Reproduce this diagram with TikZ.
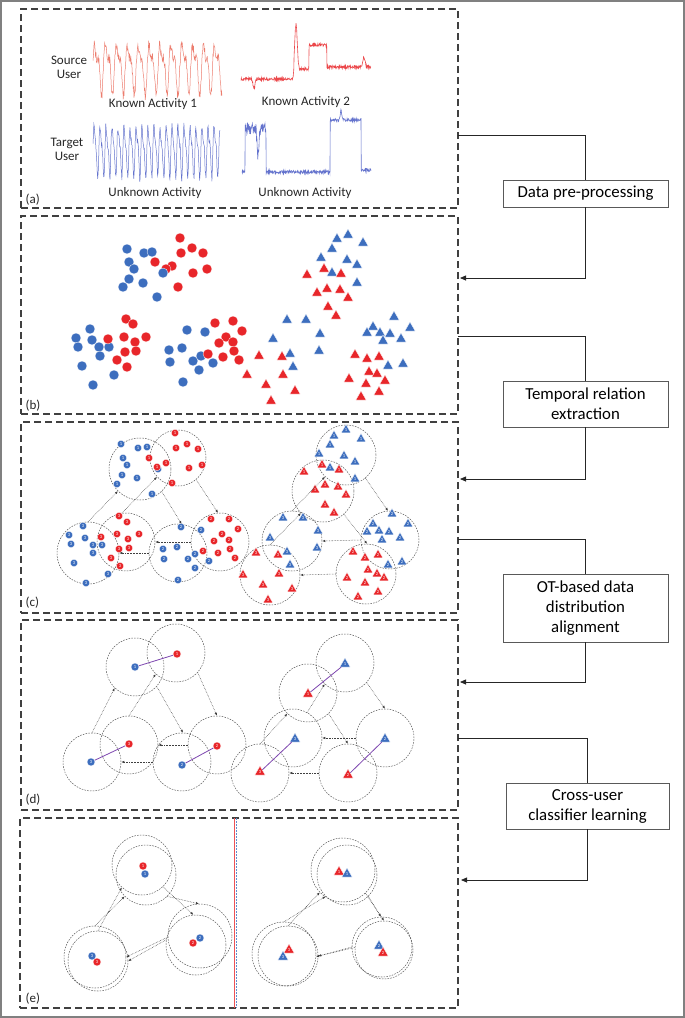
\documentclass[tikz,border=0pt]{standalone}
\usepackage{fontspec}
\setmainfont{Carlito}
\usetikzlibrary{shapes.geometric,arrows.meta,positioning,calc}
\definecolor{tblue}{RGB}{61,110,190}
\definecolor{tred}{RGB}{232,38,42}
\definecolor{sigred}{RGB}{236,125,110}
\definecolor{sigblue}{RGB}{100,115,205}
\definecolor{otpurple}{RGB}{125,70,175}
\newcommand{\txt}{\fontsize{13}{14}\selectfont}

\begin{document}
\begin{tikzpicture}[x=1pt, y=-1pt,
    panel/.style = {rectangle, draw=black!75, line width=1.2pt, dash pattern=on 7pt off 4pt, minimum width=437pt, inner sep=0pt},
    stage/.style = {rectangle, draw=black!65, line width=0.7pt, align=center, fill=white, font=\fontsize{16.8}{20}\selectfont, minimum width=165pt, inner sep=2pt},
    link/.style = {black!85, line width=0.8pt},
    tag/.style = {font=\txt, inner sep=1pt, text=black!85},
    caption/.style = {font=\txt, inner sep=1pt, text=black!85, align=center},
    bcirc/.style = {circle, fill=tblue, draw=white, line width=0.3pt, inner sep=0pt, minimum size=10pt},
    rcirc/.style = {bcirc, fill=tred},
    btri/.style = {regular polygon, regular polygon sides=3, fill=tblue, draw=white, line width=0.3pt, inner sep=0pt, minimum size=12pt},
    rtri/.style = {btri, fill=tred},
    num/.style = {minimum size=7.5pt, text=white, font=\fontsize{4.5}{5}\selectfont},
    clus/.style = {circle, draw=black!65, dash pattern=on 1.6pt off 1.2pt, line width=0.5pt, inner sep=0pt},
    flow/.style = {black!75, densely dotted, line width=0.55pt, -{Latex[length=3pt,width=2.5pt]}},
    ot/.style = {otpurple, line width=0.8pt},
    ]
    \useasboundingbox (0,0) rectangle (685,1018);
    \draw[black!50, line width=2pt] (1,1) rectangle (684,1017);

    % Panels
    \node[panel, minimum height=199pt] (pa) at (239.5,108.5) {};
    \node[panel, minimum height=198pt] (pb) at (239.5,315) {};
    \node[panel, minimum height=191pt] (pc) at (239.5,517.5) {};
    \node[panel, minimum height=190pt] (pd) at (239.5,715) {};
    \node[panel, minimum height=190pt, minimum width=438pt] (pe) at (239,913) {};
    \node[tag, above right=2pt and 4pt of pa.south west] (ta) {(a)};
    \node[tag, above right=2pt and 4pt of pb.south west] (tb) {(b)};
    \node[tag, above right=4pt and 4pt of pc.south west] (tc) {(c)};
    \node[tag, above right=4pt and 4pt of pd.south west] (td) {(d)};
    \node[tag, above right=3pt and 5pt of pe.south west] (te) {(e)};

    % Stages
    \node[stage, minimum height=27pt] (s1) at (585.5,193.5) {Data pre-processing};
    \node[stage, minimum height=46pt] (s2) at (585.5,404) {Temporal relation\\extraction};
    \node[stage, minimum height=68pt] (s3) at (585.5,608) {OT-based data\\distribution\\alignment};
    \node[stage, minimum height=46pt, minimum width=163pt] (s4) at (587.5,806) {Cross-user\\classifier learning};
    \coordinate (o1) at (458,135);  \coordinate (i1) at (460,278);
    \coordinate (o2) at (458,336);  \coordinate (i2) at (460,479);
    \coordinate (o3) at (458,539);  \coordinate (i3) at (460,682);
    \coordinate (o4) at (458,738);  \coordinate (i4) at (461,880);
    \foreach \k in {1,2,3,4} {
        \draw[link] (o\k) -| (s\k);
        \draw[link, -{Triangle[length=6pt,width=5pt]}] (s\k) |- (i\k);
    }

    % (a) signals
    \node[caption] (src) at (69,67) {Source\\User};
    \node[caption] (tgt) at (67,149) {Target\\User};
    \node[caption] (ka1) at (153,104) {Known Activity 1};
    \node[caption] (ka2) at (306,102) {Known Activity 2};
    \node[caption] (ua1) at (155,193) {Unknown Activity};
    \node[caption] (ua2) at (305,193) {Unknown Activity};
    \pgfmathsetseed{12}
    \draw[sigred, line width=0.5pt] plot[domain=0:129, samples=300]
        ({93+\x}, {66 - 20*sin(33*\x) - 10*sin(66*\x+50) + 5*rand});
    \draw[tred!85, line width=0.6pt] plot[domain=241:371, samples=400]
        (\x, {79 - 10*(\x>294) - 24*(\x>309) + 22*(\x>327) - 45*exp(-(\x-296)^2/3) + 10*exp(-(\x-254)^2/2) - 10*exp(-(\x-364)^2/2) + 1.5*rand});
    \draw[sigblue, line width=0.5pt] plot[domain=0:127, samples=300]
        ({93+\x}, {150 - 22*sin(60*\x) - 8*sin(120*\x+30) + 4*rand});
    \draw[sigblue, line width=0.6pt] plot[domain=242:371, samples=400]
        (\x, {172 - 44*(\x>245) + 44*(\x>266) - 52*(\x>330) + 50*(\x>361) + (\x>245)*(\x<266)*6*rand + 25*exp(-(\x-258)^2/2) - 10*exp(-(\x-341)^2) + 1.5*rand});

    % (b) features
    \foreach \x/\y [count=\i] in {127/249,144/253,152/252,129/262,134/269,129/279,123/287,143/283,157/297,
        76/338,90/329,92/340,78/347,99/347,109/347,100/356,82/366,114/375,93/385,
        187/330,205/332,169/350,182/348,170/362,193/361,201/356,213/363,199/370,183/382}
        \node[bcirc] (bb\i) at (\x,\y) {};
    \foreach \x/\y [count=\i] in {180/238,192/248,181/253,203/253,155/262,172/266,166/269,193/273,207/269,178/287,
        126/319,133/324,108/339,124/337,135/342,146/337,125/352,136/351,117/360,127/367,
        215/323,233/321,242/331,226/337,233/342,219/343,208/354,223/357,234/351,239/360}
        \node[rcirc] (br\i) at (\x,\y) {};
    \node[bcirc] (bb0) at (163,273) {};
    \foreach \x/\y [count=\i] in {337/239,348/235,363/243,332/249,321/258,347/260,357/265,332/273,357/283,
        287/320,306/320,320/334,273/339,319/351,290/354,293/367,
        394/317,410/328,373/327,367/333,380/333,390/334,383/341,401/339,388/366,403/364}
        \node[btri] (bt\i) at (\x,\y) {};
    \foreach \x/\y [count=\i] in {307/275,324/269,341/274,317/293,327/289,340/290,348/298,328/307,336/316,
        259/356,282/357,247/375,283/375,266/385,295/391,271/401,
        355/355,367/359,379/357,369/372,377/374,385/381,349/379,366/384,379/392,361/397}
        \node[rtri] (rt\i) at (\x,\y) {};

    % (c) temporal relations
    \node[clus, minimum size=62pt] (cb1) at (140,469) {};
    \node[clus, minimum size=56pt] (cr1) at (178,458) {};
    \node[clus, minimum size=62pt] (cb3) at (88,553) {};
    \node[clus, minimum size=58pt] (cr3) at (126,542) {};
    \node[clus, minimum size=58pt] (cb2) at (178,553) {};
    \node[clus, minimum size=58pt] (cr2) at (220,542) {};
    \node[clus, minimum size=60pt] (tb1) at (346,455) {};
    \node[clus, minimum size=62pt] (tr1) at (323,491) {};
    \node[clus, minimum size=60pt] (tb3) at (292,541) {};
    \node[clus, minimum size=60pt] (tr3) at (270,575) {};
    \node[clus, minimum size=58pt] (tb2) at (390,540) {};
    \node[clus, minimum size=60pt] (tr2) at (366,574) {};
    \foreach \x/\y/\k [count=\i] in {121/444/1,138/448/1,147/447/1,123/458/1,127/465/1,122/475/1,117/484/1,137/478/1,158/469/1,152/494/1,
        83/526/3,69/535/3,71/544/3,85/538/3,93/545/3,102/545/3,93/553/3,74/563/3,108/574/3,86/583/3,
        181/527/2,201/530/2,177/547/2,163/549/2,164/559/2,188/559/2,195/554/2,195/568/2,209/561/2,178/580/2}
        \node[bcirc, num] (cbp\i) at (\x,\y) {\k};
    \foreach \x/\y/\k [count=\i] in {175/433/1,176/448/1,187/444/1,198/449/1,149/458/1,166/463/1,157/467/1,189/468/1,202/465/1,172/483/1,
        119/516/3,127/522/3,101/537/3,117/534/3,128/539/3,139/534/3,119/549/3,129/548/3,111/558/3,120/566/3,
        211/519/2,229/519/2,238/529/2,222/534/2,214/541/2,229/540/2,230/549/2,203/551/2,218/553/2,235/558/2}
        \node[rcirc, num] (crp\i) at (\x,\y) {\k};
    \foreach \x/\y/\k [count=\i] in {334/436/1,346/430/1,330/445/1,361/439/1,319/454/1,344/456/1,355/462/1,330/468/1,355/479/1,339/470/1,
        283/518/3,303/518/3,270/538/3,318/531/3,317/548/3,287/552/3,290/565/3,
        392/514/2,408/524/2,373/524/2,367/532/2,379/531/2,389/532/2,382/540/2,400/538/2,388/565/2,402/562/2}
        \node[btri, num, minimum size=11pt] (ctb\i) at (\x,\y) {\k};
    \foreach \x/\y/\k [count=\i] in {304/472/1,322/465/1,339/470/1,315/490/1,325/485/1,338/487/1,346/495/1,325/505/1,334/513/1,
        256/553/3,278/555/3,243/575/3,279/574/3,263/585/3,292/589/3,268/600/3,
        353/552/2,365/558/2,378/555/2,368/570/2,377/574/2,384/578/2,347/578/2,365/583/2,378/592/2,358/597/2}
        \node[rtri, num, minimum size=11pt] (ctr\i) at (\x,\y) {\k};
    \draw[flow] (cb3.90) -- (cb1.225);
    \draw[flow] (cr3.98) -- (cr1.222);
    \draw[flow] (cb1.-46) -- (cb2.83);
    \draw[flow] (cr1.-50) -- (cr2.94);
    \draw[flow] (cb2.west) -- (cb3.east);
    \draw[flow] (cr2.west) -- (cr3.east);
    \draw[flow] (tb3.north) -- (tb1.226);
    \draw[flow] (tr3.north) -- (tr1.225);
    \draw[flow] (tb1.-50) -- (tb2.94);
    \draw[flow] (tr1.-48) -- (tr2.88);
    \draw[flow] (tb2.west) -- (tb3.east);
    \draw[flow] (tr2.west) -- (tr3.east);

    % (d) OT alignment
    \foreach \n/\x/\y in {dcb1/135/667, dcr1/176/653, dcb3/92/762, dcr3/129/745, dcb2/182/762, dcr2/217/745,
        dtb1/345/663, dtr1/308/693, dtb3/293/738, dtr3/260/773, dtb2/385/738, dtr2/348/773}
        \node[clus, minimum size=58pt] (\n) at (\x,\y) {};
    \node[bcirc, num, minimum size=8pt] (pcb1) at (135,667) {1};
    \node[rcirc, num, minimum size=8pt] (pcr1) at (177,654) {1};
    \node[bcirc, num, minimum size=8pt] (pcb3) at (91,762) {3};
    \node[rcirc, num, minimum size=8pt] (pcr3) at (129,744) {3};
    \node[bcirc, num, minimum size=8pt] (pcb2) at (182,765) {2};
    \node[rcirc, num, minimum size=8pt] (pcr2) at (217,746) {2};
    \node[btri, num, minimum size=12pt] (ptb1) at (345,664) {1};
    \node[rtri, num, minimum size=12pt] (ptr1) at (308,694) {1};
    \node[btri, num, minimum size=12pt] (ptb3) at (295,739) {3};
    \node[rtri, num, minimum size=12pt] (ptr3) at (260,772) {3};
    \node[btri, num, minimum size=12pt] (ptb2) at (385,739) {2};
    \node[rtri, num, minimum size=12pt] (ptr2) at (348,775) {2};
    \foreach \k in {1,2,3} {
        \draw[ot] (pcb\k) -- (pcr\k);
        \draw[ot] (ptb\k) -- (ptr\k);
    }
    \draw[flow] (dcb3.north) -- (dcb1.226);
    \draw[flow] (dcr3.north) -- (dcr1.226);
    \draw[flow] (dcb1.-42) -- (dcb2.88);
    \draw[flow] (dcr1.-42) -- (dcr2.north);
    \draw[flow] (dcr2.west) -- (dcr3.east);
    \draw[flow] (dcb2.west) -- (dcb3.east);
    \draw[flow] (dtr3.north) -- (dtr1.225);
    \draw[flow] (dtb3.61) -- (dtb1.226);
    \draw[flow] (dtr1.-45) -- (dtr2.north);
    \draw[flow] (dtb1.-42) -- (dtb2.north);
    \draw[flow] (dtb2.west) -- (dtb3.east);
    \draw[flow] (dtr2.west) -- (dtr3.east);

    % (e) cross-user classifier
    \draw[tred!80, line width=1pt] (234.3,818) -- (234.3,1008);
    \draw[tblue!80, line width=1pt, dash pattern=on 2pt off 1pt] (236.2,818) -- (236.2,1008);
    \foreach \n/\x/\y/\s in {ecr1/142/865/60, ecb1/146/875/60, ecb3/95/957/62, ecr3/98/961/60, ecb2/200/936/64, ecr2/196/945/60,
        etr1/343/870/64, etb1/347/875/60, etb3/284/954/64, etr3/288/956/60, etb2/382/947/60, etr2/384/950/58}
        \node[clus, minimum size=\s pt] (\n) at (\x,\y) {};
    \node[rcirc, num, minimum size=8pt] (qcr1) at (143,866) {1};
    \node[bcirc, num, minimum size=8pt] (qcb1) at (145,874) {1};
    \node[bcirc, num, minimum size=8pt] (qcb3) at (92,956) {3};
    \node[rcirc, num, minimum size=8pt] (qcr3) at (97,962) {3};
    \node[rcirc, num, minimum size=8pt] (qcr2) at (193,943) {2};
    \node[bcirc, num, minimum size=8pt] (qcb2) at (200,938) {2};
    \node[rtri, num, minimum size=12pt] (qtr1) at (339,872) {1};
    \node[btri, num, minimum size=12pt] (qtb1) at (347,874) {1};
    \node[rtri, num, minimum size=12pt] (qtr3) at (289,950) {3};
    \node[btri, num, minimum size=12pt] (qtb3) at (283,957) {3};
    \node[btri, num, minimum size=12pt] (qtb2) at (379,946) {2};
    \node[rtri, num, minimum size=12pt] (qtr2) at (383,953) {2};
    \draw[flow] (ecb3.north) -- (ecb1.225);
    \draw[flow] (ecr3.north) -- (ecr1.228);
    \draw[flow] (ecb1.-45) -- (ecb2.92);
    \draw[flow] (ecr1.-46) -- (ecr2.95);
    \draw[flow] (ecb2.182) -- (ecb3.0);
    \draw[flow] (ecr2.170) -- (ecr3.0);
    \draw[flow] (etb3.north) -- (etb1.225);
    \draw[flow] (etr3.north) -- (etr1.224);
    \draw[flow] (etb1.-45) -- (etb2.92);
    \draw[flow] (etr1.-46) -- (etr2.90);
    \draw[flow] (etb2.180) -- (etb3.-5);
    \draw[flow] (etr2.175) -- (etr3.0);
\end{tikzpicture}
\end{document}
